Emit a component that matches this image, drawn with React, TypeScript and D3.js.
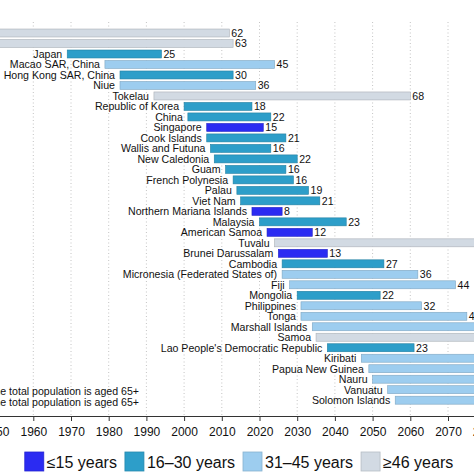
import { useRef, useEffect } from 'react';
import * as d3 from 'd3';

// countries, top to bottom
const countries = [
  'Australia', 'New Zealand', 'Japan', 'Macao SAR, China', 'Hong Kong SAR, China', 'Niue',
  'Tokelau', 'Republic of Korea', 'China', 'Singapore', 'Cook Islands', 'Wallis and Futuna',
  'New Caledonia', 'Guam', 'French Polynesia', 'Palau', 'Viet Nam', 'Northern Mariana Islands',
  'Malaysia', 'American Samoa', 'Tuvalu', 'Brunei Darussalam', 'Cambodia',
  'Micronesia (Federated States of)', 'Fiji', 'Mongolia', 'Philippines', 'Tonga',
  'Marshall Islands', 'Samoa', "Lao People's Democratic Republic", 'Kiribati',
  'Papua New Guinea', 'Nauru', 'Vanuatu', 'Solomon Islands',
];

// year when 7% of population is 65+
const startYears = [
  1950, 1950, 1969, 1979, 1983, 1983,
  1992, 2000, 2001, 2006, 2006, 2007,
  2008, 2011, 2013, 2014, 2015, 2018,
  2020, 2022, 2024, 2025, 2026,
  2026, 2028, 2030, 2031, 2031,
  2034, 2035, 2038, 2047,
  2049, 2050, 2054, 2056,
];

// years to go from 7% to 14%
const durations = [
  62, 63, 25, 45, 30, 36,
  68, 18, 22, 15, 21, 16,
  22, 16, 16, 19, 21, 8,
  23, 12, 55, 13, 27,
  36, 44, 22, 32, 44,
  45, 50, 23, 35,
  33, 34, 32, 31,
];

const xTicks = [1950, 1960, 1970, 1980, 1990, 2000, 2010, 2020, 2030, 2040, 2050, 2060, 2070, 2080];

const groupLabels = ['≤15 years', '16–30 years', '31–45 years', '≥46 years'];
const groupColors = ['#2b2bf2', '#2d9ec9', '#9dcdef', '#d2dae3'];

const notes = [
  'Start of bar: year when 7% of the total population is aged 65+',
  'End of bar: year when 14% of the total population is aged 65+',
];

const W = 474;
const H = 474;
const FONT = 'Liberation Sans, Arial, Helvetica, sans-serif';

const groupOf = (d: number) => (d <= 15 ? 0 : d <= 30 ? 1 : d <= 45 ? 2 : 3);

const App = () => {
  const svgRef = useRef<SVGSVGElement>(null);

  useEffect(() => {
    const svg = d3.select(svgRef.current);
    svg.selectAll('*').remove();

    const axisY = 416;
    const labelSize = 10.6;

    const x = d3.scaleLinear().domain([1950, 2080]).range([-4.4, 485.7]);
    const y = d3.scaleBand<string>()
      .domain(countries)
      .range([26.5, 406.7])
      .padding(0.24);

    const rows = countries.map((name, i) => ({
      name,
      start: startYears[i],
      dur: durations[i],
      end: startYears[i] + durations[i],
      g: groupOf(durations[i]),
    }));

    // dotted grid
    svg.append('g')
      .selectAll('line')
      .data(xTicks)
      .enter()
      .append('line')
      .attr('x1', d => x(d))
      .attr('x2', d => x(d))
      .attr('y1', 22)
      .attr('y2', axisY)
      .attr('stroke', '#c4c4c4')
      .attr('stroke-width', 1)
      .attr('stroke-dasharray', '1,2.5');

    // bars
    svg.append('g')
      .selectAll('rect')
      .data(rows)
      .enter()
      .append('rect')
      .attr('x', d => x(d.start))
      .attr('y', d => y(d.name)!)
      .attr('width', d => x(d.end) - x(d.start))
      .attr('height', y.bandwidth())
      .attr('fill', d => groupColors[d.g])
      .attr('stroke', d => d3.color(groupColors[d.g])!.darker(0.6).formatHex())
      .attr('stroke-width', 0.6);

    // country labels
    svg.append('g')
      .selectAll('text')
      .data(rows)
      .enter()
      .append('text')
      .attr('x', d => x(d.start) - 5)
      .attr('y', d => y(d.name)! + y.bandwidth() / 2)
      .attr('dy', '0.36em')
      .attr('text-anchor', 'end')
      .attr('font-family', FONT)
      .attr('font-size', labelSize)
      .attr('fill', '#111')
      .text(d => d.name);

    // value labels
    svg.append('g')
      .selectAll('text')
      .data(rows)
      .enter()
      .append('text')
      .attr('x', d => x(d.end) + 2)
      .attr('y', d => y(d.name)! + y.bandwidth() / 2)
      .attr('dy', '0.36em')
      .attr('font-family', FONT)
      .attr('font-size', labelSize)
      .attr('fill', '#111')
      .text(d => d.dur);

    // notes
    svg.append('g')
      .selectAll('text')
      .data(notes)
      .enter()
      .append('text')
      .attr('x', 139)
      .attr('y', (_, i) => 395 + i * 10.5)
      .attr('text-anchor', 'end')
      .attr('font-family', FONT)
      .attr('font-size', labelSize)
      .attr('fill', '#111')
      .text(d => d);

    // x axis
    const xAxis = d3.axisBottom(x)
      .tickValues(xTicks)
      .tickFormat(d3.format('d'))
      .tickSize(5)
      .tickSizeOuter(0);

    const ax = svg.append('g')
      .attr('transform', `translate(0,${axisY})`)
      .call(xAxis);
    ax.select('.domain').attr('stroke', '#333');
    ax.selectAll('.tick line').attr('stroke', '#333');
    ax.selectAll('.tick text')
      .attr('font-family', FONT)
      .attr('font-size', 12)
      .attr('fill', '#111')
      .attr('y', 11);

    // legend
    const legend = svg.append('g');
    const sw = 19;
    let cx = 0;
    const items = legend.selectAll('g')
      .data(groupLabels)
      .enter()
      .append('g');
    items.append('rect')
      .attr('width', sw)
      .attr('height', sw)
      .attr('y', 452)
      .attr('fill', (_, i) => groupColors[i])
      .attr('stroke', (_, i) => d3.color(groupColors[i])!.darker(0.4).formatHex())
      .attr('stroke-width', 0.8);
    items.append('text')
      .attr('x', sw + 3)
      .attr('y', 467.5)
      .attr('font-family', FONT)
      .attr('font-size', 16)
      .attr('fill', '#111')
      .text(d => d);
    items.each(function () {
      const g = d3.select(this);
      const tw = (g.select('text').node() as SVGTextElement).getComputedTextLength();
      g.attr('transform', `translate(${cx},0)`);
      cx += sw + 3 + tw + 8;
    });
    const total = cx - 8;
    legend.attr('transform', `translate(${(27 + 451) / 2 - total / 2},0)`);
  }, []);

  return (
    <svg
      ref={svgRef}
      width={W}
      height={H}
      style={{ position: 'absolute', left: 0, top: 0, background: '#fff' }}
    />
  );
};

export default App;
